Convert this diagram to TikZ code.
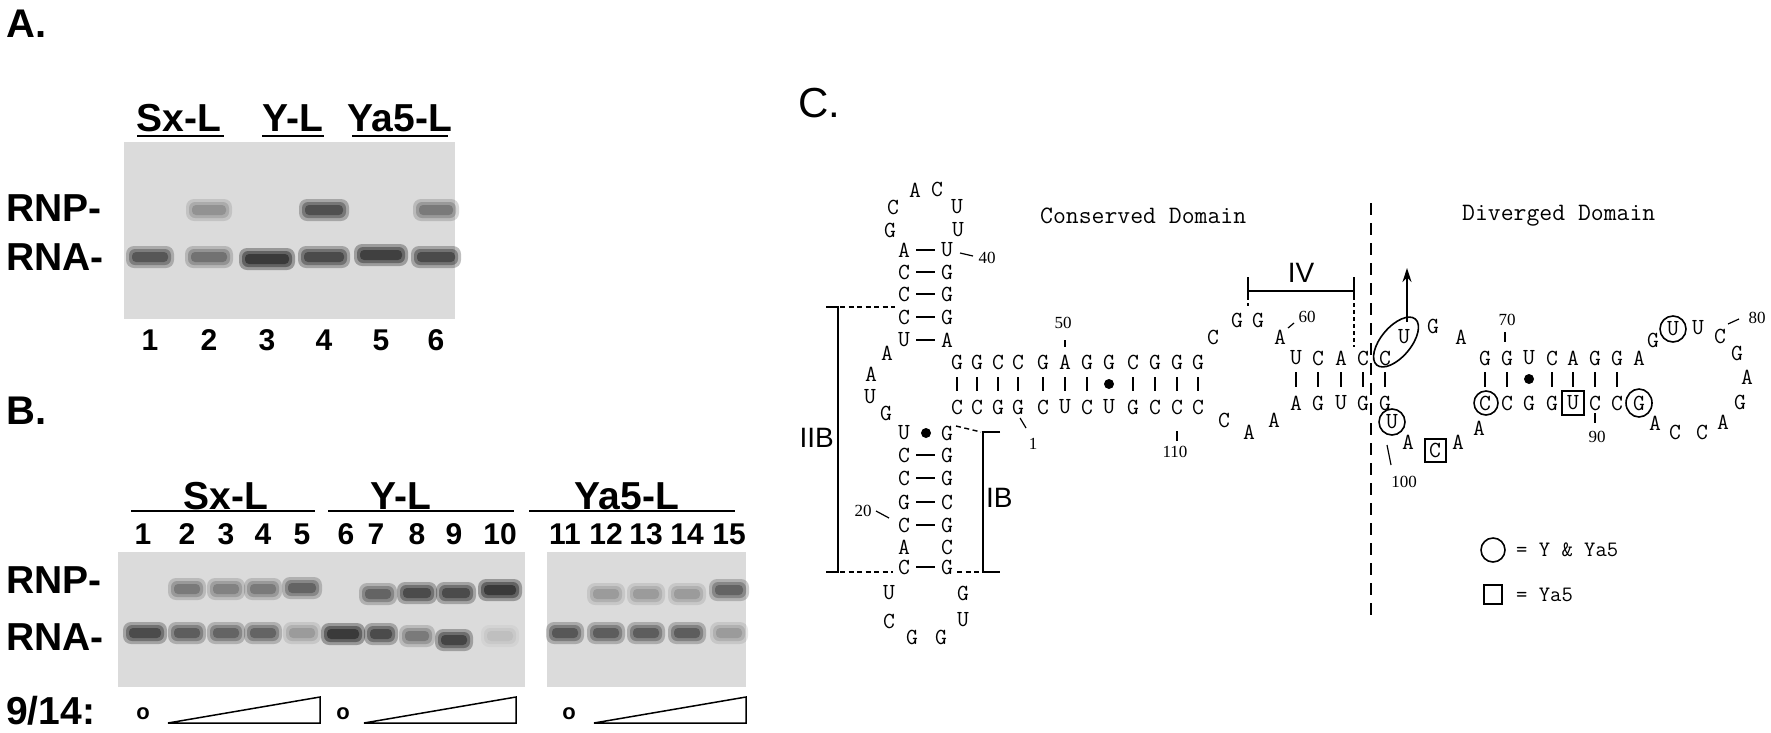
\documentclass[tikz,border=0pt]{standalone}
\usepackage{fontspec}
\setmainfont{Liberation Sans}
\newfontfamily\rser{Liberation Serif}
\usetikzlibrary{arrows.meta}
\begin{document}
\begin{tikzpicture}[x=1pt,y=-1pt,
  nt/.style={inner sep=0pt,font=\ttfamily\fontsize{23}{23}\selectfont},
  num/.style={inner sep=0pt,font=\rser\fontsize{17}{17}\selectfont},
  dom/.style={inner sep=0pt,anchor=west,font=\ttfamily\fontsize{25}{25}\selectfont},
  glab/.style={inner sep=0pt,font=\bfseries\fontsize{39}{39}\selectfont},
  lane/.style={inner sep=0pt,font=\bfseries\fontsize{30}{30}\selectfont},
  panel/.style={inner sep=0pt,anchor=north west,font=\bfseries\fontsize{40}{40}\selectfont},
  gel/.style={fill=black!14,draw=none},
  bp/.style={line width=1.2pt},
  brk/.style={line width=1.6pt},
  dsh/.style={line width=1.4pt,dash pattern=on 5pt off 3.5pt},
  hl/.style={line width=1.6pt}]
\useasboundingbox (0,0) rectangle (1771,732);
\fill[white] (0,0) rectangle (1771,732);
\newcommand\bnd[4]{%
  \fill[black,opacity=#4*0.3,rounded corners=8pt] (#1-#3/2,#2-11) rectangle (#1+#3/2,#2+11);
  \fill[black,opacity=#4*0.35,rounded corners=6pt] (#1-#3/2+3,#2-8) rectangle (#1+#3/2-3,#2+8);
  \fill[black,opacity=#4*0.4,rounded corners=4pt] (#1-#3/2+6,#2-5) rectangle (#1+#3/2-6,#2+5);}
%================ Panel A
\node[panel] (pA) at (6,10) {A.};
\node[glab] (aSx) at (179,118) {Sx-L};
\node[glab] (aY) at (293,118) {Y-L};
\node[glab] (aYa) at (400,118) {Ya5-L};
\draw[line width=1.3pt] (137,136) -- (224,136) (262,136) -- (324,136) (352,136) -- (448,136);
\fill[gel] (124,142) rectangle (455,319);
\node[glab,anchor=west] (aRNP) at (6,208) {RNP-};
\node[glab,anchor=west] (aRNA) at (6,257) {RNA-};
\bnd{150}{257}{48}{0.75}
\bnd{209}{257}{48}{0.55}
\bnd{267}{259}{56}{1}
\bnd{324}{257}{52}{0.85}
\bnd{381}{255}{54}{0.95}
\bnd{436}{257}{50}{0.85}
\bnd{209}{210}{46}{0.35}
\bnd{324}{210}{50}{0.8}
\bnd{436}{210}{46}{0.5}
\foreach \x/\n in {150/1,209/2,267/3,324/4,381/5,436/6}
  \node[lane] (aL\n) at (\x,340) {\n};
%================ Panel B
\node[panel] (pB) at (6,397) {B.};
\node[glab] (bSx) at (226,496) {Sx-L};
\node[glab] (bY) at (401,496) {Y-L};
\node[glab] (bYa) at (627,496) {Ya5-L};
\draw[line width=1.3pt] (131,511) -- (315,511) (328,511) -- (514,511) (529,511) -- (735,511);
\foreach \x/\n in {143/1,187/2,226/3,263/4,302/5,346/6,376/7,417/8,454/9,500/10,565/11,606/12,646/13,687/14,729/15}
  \node[lane] (bL\n) at (\x,534) {\n};
\fill[gel] (118,552) rectangle (525,687);
\fill[gel] (547,552) rectangle (746,687);
\node[glab,anchor=west] (bRNP) at (6,580) {RNP-};
\node[glab,anchor=west] (bRNA) at (6,637) {RNA-};
\bnd{145}{633}{44}{0.85}
\bnd{187}{633}{38}{0.7}
\bnd{226}{633}{38}{0.65}
\bnd{263}{633}{38}{0.65}
\bnd{302}{633}{38}{0.3}
\bnd{343}{634}{44}{1}
\bnd{381}{634}{34}{0.85}
\bnd{417}{636}{36}{0.5}
\bnd{454}{640}{38}{0.9}
\bnd{500}{636}{38}{0.12}
\bnd{565}{633}{38}{0.75}
\bnd{606}{633}{38}{0.7}
\bnd{646}{633}{38}{0.7}
\bnd{687}{633}{38}{0.7}
\bnd{729}{633}{38}{0.3}
\bnd{187}{589}{38}{0.5}
\bnd{226}{589}{38}{0.45}
\bnd{263}{589}{38}{0.5}
\bnd{302}{588}{40}{0.65}
\bnd{378}{594}{38}{0.65}
\bnd{417}{593}{40}{0.85}
\bnd{456}{593}{40}{0.85}
\bnd{500}{590}{44}{1}
\bnd{606}{594}{38}{0.3}
\bnd{646}{594}{38}{0.3}
\bnd{687}{594}{38}{0.3}
\bnd{729}{590}{40}{0.65}
\node[glab,anchor=west] (b914) at (6,711) {9/14:};
\foreach \x/\n in {143/1,343/2,569/3}
  \node[inner sep=0pt,font=\bfseries\fontsize{22}{22}\selectfont] (o\n) at (\x,714) {o};
\draw[line width=1.5pt] (168,723) -- (320,697) -- (320,723) -- cycle;
\draw[line width=1.5pt] (364,723) -- (516,697) -- (516,723) -- cycle;
\draw[line width=1.5pt] (594,723) -- (746,697) -- (746,723) -- cycle;
%================ Panel C
\node[panel,font=\fontsize{42}{42}\selectfont] (pC) at (798,88) {C.};
\node[dom] (cons) at (1040,216) {Conserved Domain};
\node[dom] (div) at (1462,216) {Diverged Domain};
\draw[line width=1.6pt,dash pattern=on 12pt off 8pt] (1371,203) -- (1371,619);
\foreach \x/\y/\l in {890/230/G,893/207/C,915/190/A,937/189/C,957/207/U,958/230/U}
  \node[nt] at (\x,\y) {\l};
\foreach \y/\a/\b in {250/A/U,272/C/G,294/C/G,317/C/G,340/U/A}{
  \node[nt] at (904,\y) {\a}; \node[nt] at (947,\y) {\b};
  \draw[bp] (916,\y) -- (935,\y);}
\draw[bp] (960,253) -- (973,256);
\node[num] (n40) at (987,258) {40};
\foreach \x/\y/\l in {887/353/A,871/374/A,870/397/U,886/413/G}
  \node[nt] at (\x,\y) {\l};
\foreach \y/\a/\b/\p in {433/U/G/0,455/C/G/1,478/C/G/1,502/G/C/1,525/C/G/1,547/A/C/2,567/C/G/1}{
  \node[nt] at (904,\y) {\a}; \node[nt] at (947,\y) {\b};
  \ifnum\p=1 \draw[bp] (916,\y) -- (935,\y); \fi
  \ifnum\p=0 \fill (926,\y) circle (5pt); \fi}
\draw[bp] (876,511) -- (889,518);
\node[num] (n20) at (863,511) {20};
\foreach \x/\y/\l in {889/593/U,963/593/G,889/621/C,912/637/G,941/637/G,963/620/U}
  \node[nt] at (\x,\y) {\l};
\draw[brk] (826,307) -- (838,307) -- (838,572) -- (826,572);
\draw[dsh] (840,307) -- (895,307);
\draw[dsh] (840,572) -- (893,572);
\node[inner sep=0pt,font=\fontsize{28}{28}\selectfont,anchor=east] (IIB) at (834,438) {IIB};
\draw[brk] (1000,432) -- (983,432) -- (983,572) -- (1000,572);
\draw[dsh] (956,426) -- (981,432);
\draw[dsh] (957,572) -- (981,572);
\node[inner sep=0pt,font=\fontsize{28}{28}\selectfont,anchor=west] (IB) at (986,498) {IB};
\foreach \x/\a/\b/\p in {957/G/C/1,977/G/C/1,998/C/G/1,1018/C/G/1,1043/G/C/1,1065/A/U/1,1087/G/C/1,1109/G/U/0,1133/C/G/1,1155/G/C/1,1177/G/C/1,1198/G/C/1}{
  \node[nt] at (\x,362) {\a}; \node[nt] at (\x,407) {\b};
  \ifnum\p=1 \draw[bp] (\x,377) -- (\x,391); \else \fill (\x,384) circle (5pt); \fi}
\draw[bp] (1065,340) -- (1065,347);
\node[num] (n50) at (1063,323) {50};
\draw[bp] (1020,418) -- (1026,428);
\node[num] (n1) at (1033,444) {1};
\draw[bp] (1177,431) -- (1177,441);
\node[num] (n110) at (1175,452) {110};
\foreach \x/\y/\l in {1213/337/C,1237/320/G,1258/320/G,1280/337/A,1224/420/C,1249/432/A,1274/420/A}
  \node[nt] at (\x,\y) {\l};
\draw[bp] (1288,328) -- (1294,323);
\node[num] (n60) at (1307,317) {60};
\draw[brk] (1248,277) -- (1248,296);
\draw[brk] (1354,277) -- (1354,296);
\draw[brk] (1248,291) -- (1354,291);
\draw[line width=1.2pt,dash pattern=on 4pt off 3pt] (1248,296) -- (1248,306);
\draw[line width=1.2pt,dash pattern=on 4pt off 3pt] (1354,296) -- (1354,347);
\node[inner sep=0pt,font=\fontsize{28}{28}\selectfont] (IV) at (1301,273) {IV};
\foreach \x/\a/\b in {1296/U/A,1318/C/G,1341/A/U,1363/C/G,1385/C/G}{
  \node[nt] at (\x,358) {\a}; \node[nt] at (\x,403) {\b};
  \draw[bp] (\x,372) -- (\x,387);}
\node[nt] (U1) at (1404,337) {U};
\draw[hl,rotate around={50:(1396,342)}] (1396,342) ellipse (30pt and 15pt);
\draw[line width=1.6pt,-{Stealth[length=14pt,width=9pt]}] (1407,322) -- (1407,268);
\foreach \x/\y/\l in {1433/326/G,1461/337/A,1408/442/A,1458/442/A,1479/428/A}
  \node[nt] at (\x,\y) {\l};
\node[nt] (U100) at (1392,422) {U};
\draw[hl] (1392,422) circle (13pt);
\draw[bp] (1387,445) -- (1391,465);
\node[num] (n100) at (1404,482) {100};
\node[nt] (C1) at (1435,450) {C};
\draw[hl] (1425,439) rectangle (1446,462);
\foreach \x/\a/\b/\p in {1485/G/C/1,1507/G/C/1,1529/U/G/0,1552/C/G/1,1573/A/U/1,1595/G/C/1,1617/G/C/1,1639/A/G/2}{
  \node[nt] at (\x,358) {\a}; \node[nt] at (\x,403) {\b};
  \ifnum\p=1 \draw[bp] (\x,372) -- (\x,387); \fi
  \ifnum\p=0 \fill (\x,379) circle (5pt); \fi}
\draw[hl] (1486,403) circle (12pt);
\draw[hl] (1639,403) ellipse (13pt and 14pt);
\draw[hl] (1562,391) rectangle (1584,415);
\draw[bp] (1505,332) -- (1505,342);
\node[num] (n70) at (1507,320) {70};
\draw[bp] (1595,413) -- (1595,423);
\node[num] (n90) at (1597,437) {90};
\foreach \x/\y/\l in {1653/340/G,1673/329/U,1698/328/U,1720/336/C,1737/353/G,1747/377/A,1740/402/G,1723/422/A,1702/432/C,1675/432/C,1655/423/A}
  \node[nt] at (\x,\y) {\l};
\draw[hl] (1673,329) circle (13pt);
\draw[bp] (1728,324) -- (1739,319);
\node[num] (n80) at (1757,318) {80};
\draw[hl] (1493,550) circle (12pt);
\node[dom,font=\ttfamily\fontsize{22}{22}\selectfont] (lg1) at (1516,550) {= Y \& Ya5};
\draw[hl] (1484,585) rectangle (1502,604);
\node[dom,font=\ttfamily\fontsize{22}{22}\selectfont] (lg2) at (1516,595) {= Ya5};
\end{tikzpicture}
\end{document}
